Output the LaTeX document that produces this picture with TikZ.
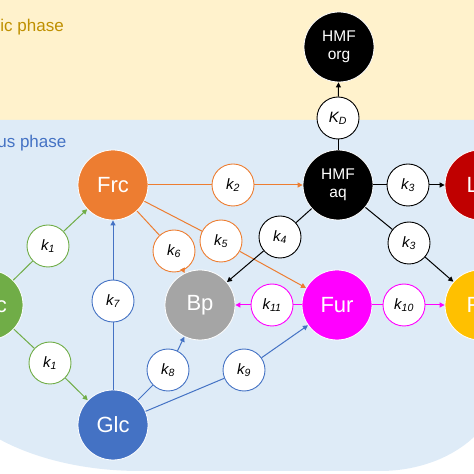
\documentclass[tikz,border=0pt]{standalone}
\usepackage{fontspec}
\setmainfont{Liberation Sans}
\usetikzlibrary{arrows.meta}
\definecolor{orgYellow}{HTML}{FFF2CC}
\definecolor{aqBlue}{HTML}{DEEBF7}
\definecolor{orgGold}{HTML}{BF9000}
\definecolor{aqText}{HTML}{4472C4}
\definecolor{sucGreen}{HTML}{70AD47}
\definecolor{frcOrange}{HTML}{ED7D31}
\definecolor{glcBlue}{HTML}{4472C4}
\definecolor{bpGrey}{HTML}{A5A5A5}
\definecolor{furPink}{HTML}{FF00FF}
\definecolor{faYellow}{HTML}{FFC000}
\definecolor{laRed}{HTML}{C00000}
\newcommand{\rk}[1]{k\textsubscript{#1}}
\tikzset{
  species/.style={circle, draw=white, line width=0.8pt, minimum size=70pt,
    inner sep=0pt, text=white, font=\fontsize{22}{22}\selectfont},
  hmf/.style={species, fill=black, align=center, font=\fontsize{15.5}{18}\selectfont},
  rate/.style={circle, fill=white, line width=0.9pt, minimum size=42pt,
    inner sep=0pt, font=\fontsize{15}{15}\selectfont\itshape},
  link/.style={line width=1pt},
  flow/.style={line width=1pt, -{Triangle[length=5pt,width=5pt]}},
  phaseLabel/.style={anchor=base west, inner sep=0pt, font=\fontsize{17}{17}\selectfont}
}

\begin{document}
\begin{tikzpicture}[x=1pt,y=1pt]
\useasboundingbox (0,0) rectangle (474,474);
\clip (0,0) rectangle (474,474);

% phases
\fill[orgYellow] (-10,354) rectangle (484,484);
\fill[aqBlue] (-60,354) -- (500,354) -- (500,93)
  arc[start angle=0, end angle=-90, x radius=120, y radius=90] -- (140,3)
  arc[start angle=270, end angle=180, x radius=200, y radius=110] -- cycle;
\node[phaseLabel, text=orgGold] (orgLabel) at (-47,442) {Organic phase};
\node[phaseLabel, text=aqText] (aqLabel) at (-52,326) {Aqueous phase};

% species
\node[hmf] (hmfOrg) at (339,427) {HMF\\org};
\node[hmf] (hmfAq) at (338,289) {HMF\\aq};
\node[species, fill=frcOrange] (frc) at (113,289) {Frc};
\node[species, fill=sucGreen] (suc) at (-12,169) {Suc};
\node[species, fill=bpGrey] (bp) at (200,169) {Bp};
\node[species, fill=furPink] (fur) at (337,169) {Fur};
\node[species, fill=faYellow] (fa) at (480,169) {FA};
\node[species, fill=laRed] (la) at (480,289) {LA};
\node[species, fill=glcBlue] (glc) at (113,49) {Glc};

% rate constants
\node[rate, draw=black] (kD) at (338,356) {K\textsubscript{D}};
\node[rate, draw=black] (k3a) at (408,289) {\rk{3}};
\node[rate, draw=black] (k3b) at (409,231) {\rk{3}};
\node[rate, draw=black] (k4) at (280,237) {\rk{4}};
\node[rate, draw=frcOrange] (k2) at (233,289) {\rk{2}};
\node[rate, draw=frcOrange] (k5) at (221,233) {\rk{5}};
\node[rate, draw=frcOrange] (k6) at (174,223) {\rk{6}};
\node[rate, draw=sucGreen] (k1a) at (48,228) {\rk{1}};
\node[rate, draw=sucGreen] (k1b) at (50,111) {\rk{1}};
\node[rate, draw=glcBlue] (k7) at (113,173) {\rk{7}};
\node[rate, draw=glcBlue] (k8) at (168,104) {\rk{8}};
\node[rate, draw=glcBlue] (k9) at (244,104) {\rk{9}};
\node[rate, draw=furPink] (k11) at (272,169) {\rk{11}};
\node[rate, draw=furPink] (k10) at (404,169) {\rk{10}};

% reactions
\draw[link, sucGreen] (suc) -- (k1a);
\draw[flow, sucGreen] (k1a) -- (frc);
\draw[link, sucGreen] (suc) -- (k1b);
\draw[flow, sucGreen] (k1b) -- (glc);
\draw[link, glcBlue] (glc) -- (k7);
\draw[flow, glcBlue] (k7) -- (frc);
\draw[link, glcBlue] (glc) -- (k8);
\draw[flow, glcBlue] (k8) -- (bp);
\draw[link, glcBlue] (glc) -- (k9);
\draw[flow, glcBlue] (k9) -- (fur);
\draw[link, frcOrange] (frc) -- (k2);
\draw[flow, frcOrange] (k2) -- (hmfAq);
\draw[link, frcOrange] (frc) -- (k6);
\draw[flow, frcOrange] (k6) -- (bp);
\draw[link, frcOrange] (frc) -- (k5);
\draw[flow, frcOrange] (k5) -- (fur);
\draw[link] (hmfAq) -- (kD);
\draw[flow] (kD) -- (hmfOrg);
\draw[link] (hmfAq) -- (k3a);
\draw[flow] (k3a) -- (la);
\draw[link] (hmfAq) -- (k3b);
\draw[flow] (k3b) -- (fa);
\draw[link] (hmfAq) -- (k4);
\draw[flow] (k4) -- (bp);
\draw[link, furPink] (fur) -- (k11);
\draw[flow, furPink] (k11) -- (bp);
\draw[link, furPink] (fur) -- (k10);
\draw[flow, furPink] (k10) -- (fa);
\end{tikzpicture}
\end{document}
